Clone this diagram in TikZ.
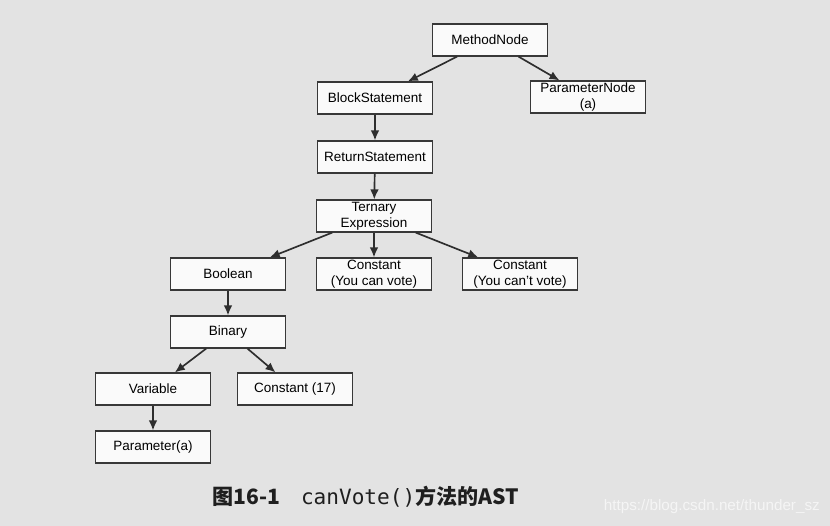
\documentclass[tikz,border=0pt]{standalone}
\usepackage{fontspec}
\setmainfont{Liberation Sans}
\newfontfamily\cjk{Noto Sans CJK SC}
\newfontfamily\capmono{DejaVu Sans Mono}
\usetikzlibrary{arrows.meta}

\begin{document}
\begin{tikzpicture}[x=0.03cm, y=-0.03cm,
		box/.style={draw=black!78, line width=0.45mm, fill=black!2, minimum width=3.45cm,
			minimum height=0.95cm, align=center, inner sep=1pt,
			font=\fontsize{11.5}{13.5}\selectfont},
		edge/.style={draw=black!82, line width=0.5mm, -{Latex[length=3mm, width=2.6mm]}}]
			%%%%% START %%%%%
			
			\fill[black!11] (0, 0) rectangle (830, 526);
			
			\node[box] (method) at (490, 40) {MethodNode};
			\node[box] (block) at (375, 98) {BlockStatement};
			\node[box] (param) at (588, 97) {ParameterNode\\(a)};
			\node[box] (return) at (375, 157) {ReturnStatement};
			\node[box] (ternary) at (374, 216) {Ternary\\Expression};
			
			\node[box] (bool) at (228, 274) {Boolean};
			\node[box] (canvote) at (374, 274) {Constant\\(You can vote)};
			\node[box] (cantvote) at (520, 274) {Constant\\(You can't vote)};
			
			\node[box] (binary) at (228, 332) {Binary};
			\node[box] (var) at (153, 389) {Variable};
			\node[box] (seventeen) at (295, 389) {Constant (17)};
			\node[box] (parama) at (153, 447) {Parameter(a)};
			
			\draw[edge] (method) -- (block);
			\draw[edge] (method) -- (param);
			\draw[edge] (block) -- (return);
			\draw[edge] (return) -- (ternary);
			\draw[edge] (ternary) -- (bool);
			\draw[edge] (ternary) -- (canvote);
			\draw[edge] (ternary) -- (cantvote);
			\draw[edge] (bool) -- (binary);
			\draw[edge] (binary) -- (var);
			\draw[edge] (binary) -- (seventeen);
			\draw[edge] (var) -- (parama);
			
			\node[anchor=west, text=black!88, inner sep=0pt] (caption) at (212, 497)
				{\fontsize{18}{20}\selectfont\cjk\bfseries 图16-1\quad{\capmono\mdseries canVote()}方法的AST};
			\node[anchor=east, text=white!96!black, inner sep=0pt] (mark) at (820, 507)
				{\fontsize{13}{15}\selectfont https://blog.csdn.net/thunder\_sz};
			
			%%%%% END %%%%%
\end{tikzpicture}
\end{document}
